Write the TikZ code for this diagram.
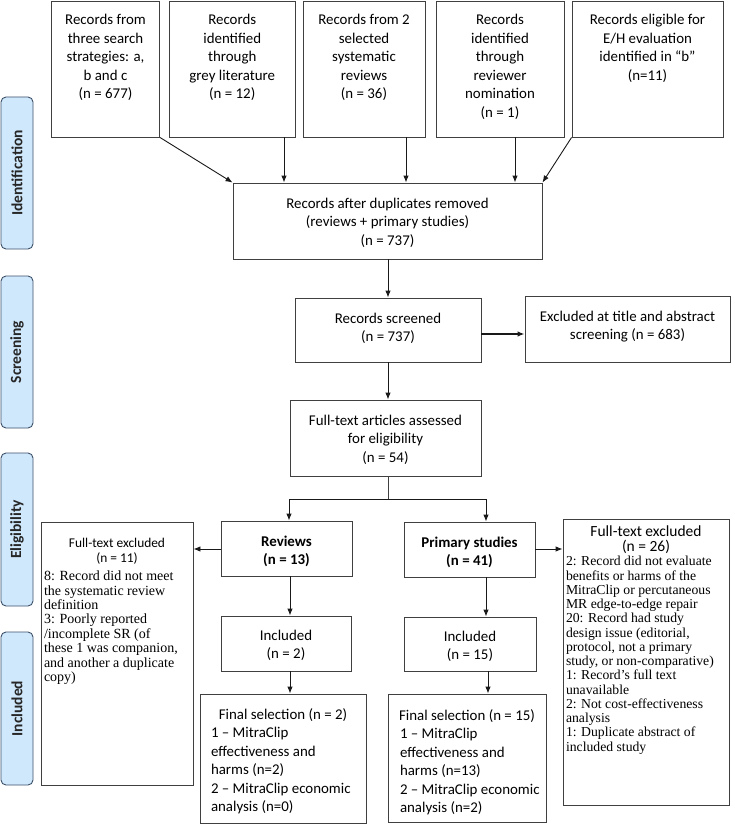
\documentclass[tikz,border=0pt]{standalone}
\usepackage{fontspec}
\setmainfont{Carlito}
\newfontfamily\tnr{Liberation Serif}
\usetikzlibrary{arrows.meta}
% width, height, alignment, first baseline offset, content
\newcommand{\bxt}[5]{\begin{minipage}[c][#2][t]{#1}#3\rule{0pt}{#4}\ignorespaces#5\par\end{minipage}}
\definecolor{lblfill}{RGB}{207,232,252}
\definecolor{lbldraw}{RGB}{60,80,105}
\begin{document}
\begin{tikzpicture}[x=1pt,y=-1pt,
  box/.style={draw=black!75, line width=0.9pt, inner ysep=0pt, inner xsep=2pt, font=\fontsize{14.9}{18.5}\selectfont},
  arr/.style={draw=black!90, line width=0.9pt, -{Latex[length=7pt,width=5.5pt]}},
  plain/.style={draw=black!75, line width=0.9pt},
  lbl/.style={draw=lbldraw, fill=lblfill, line width=0.9pt, rounded corners=5pt, rotate=90,
    minimum height=32pt, inner sep=0pt, font=\fontsize{15.5}{18}\selectfont\bfseries, text=black!85}]
\useasboundingbox (0,0) rectangle (734,824);

% side labels
\node[lbl, minimum width=152pt] (lid) at (17,173) {Identification};
\node[lbl, minimum width=152pt] (lsc) at (17,352) {Screening};
\node[lbl, minimum width=153pt] (lel) at (17,529.5) {Eligibility};
\node[lbl, minimum width=153pt] (lin) at (17,708.5) {Included};

% top boxes
\node[box] (s1) at (105.5,69) {\bxt{104pt}{136pt}{\centering}{24pt}{Records from\\three search\\strategies: a,\\b and c\\(n = 677)}};
\node[box] (s2) at (232.25,69) {\bxt{121.5pt}{136pt}{\centering}{24pt}{Records\\identified\\through\\grey literature\\(n = 12)}};
\node[box] (s3) at (364,69) {\bxt{118pt}{136pt}{\centering}{24pt}{Records from 2\\selected\\systematic\\reviews\\(n = 36)}};
\node[box] (s4) at (500,69) {\bxt{124pt}{136pt}{\centering}{24pt}{Records\\identified\\through\\reviewer\\nomination\\(n = 1)}};
\node[box] (s5) at (647.5,69) {\bxt{147pt}{136pt}{\centering}{24pt}{Records eligible for\\E/H evaluation\\identified in “b”\\(n=11)}};

% main column
\node[box] (dup) at (387.5,221) {\bxt{305pt}{76pt}{\centering}{25pt}{Records after duplicates removed\\(reviews + primary studies)\\(n = 737)}};
\node[box] (scr) at (388,330) {\bxt{182pt}{64pt}{\centering}{25pt}{Records screened\\(n = 737)}};
\node[box] (excl) at (627.5,329) {\bxt{201pt}{66pt}{\centering}{25pt}{Excluded at title and abstract\\screening (n = 683)}};
\node[box] (ft) at (385.5,438) {\bxt{187pt}{76pt}{\centering}{25pt}{Full-text articles assessed\\for eligibility\\(n = 54)}};

% split
\node[box] (rev) at (286.5,548.5) {\bxt{127pt}{55pt}{\centering\bfseries}{25pt}{Reviews\\(n = 13)}};
\node[box] (prim) at (469.5,549.5) {\bxt{127pt}{55pt}{\centering\bfseries}{25pt}{Primary studies\\(n = 41)}};

\node[box, inner xsep=3pt] (exL) at (117,653.5) {\bxt{146pt}{263pt}{\centering}{25pt}{\fontsize{13.4}{15}\selectfont Full-text excluded\\(n = 11)\par\vspace{4.2pt}\raggedright\tnr\fontsize{14}{14.4}\selectfont
8: Record did not meet\\the systematic review\\definition\\3: Poorly reported\\/incomplete SR (of\\these 1 was companion,\\\mbox{and another a duplicate}\\copy)}};

\node[box, inner xsep=3pt] (exR) at (646,662) {\bxt{160pt}{286pt}{\centering}{17pt}{\fontsize{15.5}{15}\selectfont Full-text excluded\\(n = 26)\par\vspace{0.5pt}\raggedright\tnr\fontsize{13.7}{14.25}\selectfont
\mbox{2: Record did not evaluate}\\benefits or harms of the\\\mbox{MitraClip or percutaneous}\\MR edge-to-edge repair\\20: Record had study\\design issue (editorial,\\protocol, not a primary\\\mbox{study, or non-comparative)}\\1: Record’s full text\\unavailable\\\mbox{2: Not cost-effectiveness}\\analysis\\1: Duplicate abstract of\\included study}};

\node[box] (incL) at (286,643.5) {\bxt{126pt}{55pt}{\centering}{24pt}{Included\\(n = 2)}};
\node[box] (incR) at (470,644) {\bxt{128pt}{54pt}{\centering}{24pt}{Included\\(n = 15)}};

\node[box, inner xsep=6pt] (finL) at (283,758.5) {\bxt{154pt}{129pt}{\centering}{25pt}{Final selection (n = 2)\par\raggedright\leftskip=5pt
1 – MitraClip\\effectiveness and\\harms (n=2)\\\mbox{2 – MitraClip economic}\\analysis (n=0)}};
\node[box, inner xsep=6pt] (finR) at (467,758) {\bxt{146pt}{128pt}{\centering}{26pt}{Final selection (n = 15)\par\raggedright\leftskip=6pt
1 – MitraClip\\effectiveness and\\harms (n=13)\\\mbox{2 – MitraClip economic}\\analysis (n=2)}};

% connectors
\coordinate (a2) at (284,0);
\coordinate (a3) at (406,0);
\coordinate (a4) at (515,0);
\coordinate (c1) at (388,0);
\coordinate (ey) at (0,334);
\coordinate (jm) at (388,499);
\coordinate (jl) at (289,499);
\coordinate (jr) at (486,499);
\coordinate (ry) at (0,549);
\coordinate (b1) at (290,0);
\coordinate (b2) at (486,0);
\coordinate (b3) at (488,0);

\draw[arr] (s1.south east) -- (dup.north west);
\draw[arr] (s2.south -| a2) -- (dup.north -| a2);
\draw[arr] (s3.south -| a3) -- (dup.north -| a3);
\draw[arr] (s4.south -| a4) -- (dup.north -| a4);
\draw[arr] (s5.south west) -- (dup.north east);
\draw[arr] (dup.south -| c1) -- (scr.north -| c1);
\draw[arr, line width=1.6pt] (scr.east |- ey) -- (excl.west |- ey);
\draw[arr] (scr.south -| c1) -- (ft.north -| c1);
\draw[plain] (ft.south -| jm) -- (jm);
\draw[arr] (jm) -| (rev.north -| jl);
\draw[arr] (jm) -| (prim.north -| jr);
\draw[arr] (rev.west |- ry) -- (exL.east |- ry);
\draw[arr] (prim.east |- ry) -- (exR.west |- ry);
\draw[arr] (rev.south -| b1) -- (incL.north -| b1);
\draw[arr] (incL.south -| b1) -- (finL.north -| b1);
\draw[arr] (prim.south -| b2) -- (incR.north -| b2);
\draw[arr] (incR.south -| b3) -- (finR.north -| b3);
\end{tikzpicture}
\end{document}
